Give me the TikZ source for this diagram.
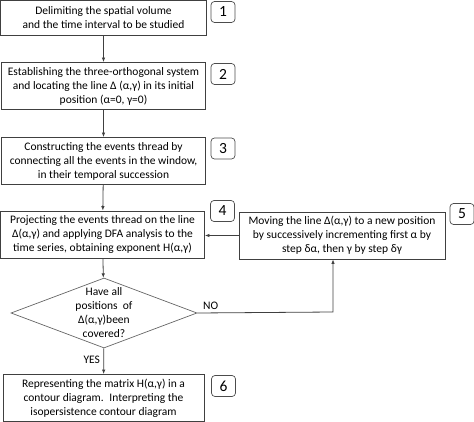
\documentclass[tikz,border=0pt]{standalone}
\usepackage{fontspec}
\setmainfont{Carlito}
\usetikzlibrary{shapes.geometric,arrows.meta}
\begin{document}
\begin{tikzpicture}[x=1pt,y=-1pt,
    box/.style={draw=black!75,line width=0.8pt,minimum width=204pt,minimum height=47pt,
      align=center,inner sep=1pt,font=\fontsize{11.5}{14}\selectfont},
    tag/.style={draw=black!70,line width=0.7pt,rounded corners=3.5pt,minimum width=24pt,
      minimum height=21pt,inner sep=0pt,font=\fontsize{15.5}{16}\selectfont},
    arr/.style={draw=black!75,line width=0.8pt,-{Latex[length=4.5pt,width=3.5pt]}}]
    \useasboundingbox (0,0) rectangle (474,422);

    % Steps
    \node[box,minimum height=35pt,minimum width=206pt] (b1) at (103.5,17.5)
        {Delimiting the spatial volume\\and the time interval to be studied};
    \node[box] (b2) at (103.5,86)
        {Establishing the three-orthogonal system\\and locating the line Δ (α,γ) in its initial\\position (α=0, γ=0)};
    \node[box] (b3) at (103.5,161)
        {Constructing the events thread by\\connecting all the events in the window,\\in their temporal succession};
    \node[box] (b4) at (102.5,234.5)
        {Projecting the events thread on the line\\Δ(α,γ) and applying DFA analysis to the\\time series, obtaining exponent H(α,γ)};
    \node[box,minimum width=206pt] (b5) at (342,235.5)
        {Moving the line Δ(α,γ) to a new position\\by successively incrementing first α by\\step δα, then γ by step δγ};
    \node[box,minimum width=201pt] (b6) at (103.5,398)
        {Representing the matrix H(α,γ) in a\\contour diagram.\enspace Interpreting the\\isopersistence contour diagram};

    % Decision
    \node[draw=black!60,line width=0.7pt,shape=diamond,minimum width=186pt,minimum height=70pt,
        inner sep=0pt] (q) at (104,313) {};
    \node[align=center,font=\fontsize{11.5}{14}\selectfont] (qtext) at (q)
        {Have all\\positions\ \ of\\Δ(α,γ)been\\covered?};

    % Step numbers
    \foreach \n/\x/\y in {1/223/12, 2/223/74, 3/223/148.5, 4/222.5/211, 5/462/214, 6/223.5/386} {
        \node[tag] (t\n) at (\x,\y) {\n};
    }

    % Connectors
    \draw[arr] (b1) -- (b2);
    \draw[arr] (b2) -- (b3);
    \draw[arr] (b3) -- (b4);
    \draw[arr] (b4) -- (q);
    \draw[arr] (q) -- node[left,pos=0.45,font=\fontsize{11.5}{14}\selectfont] {YES} (b6);
    \coordinate (turn) at (333,312);
    \draw[arr] (q.east) -- node[above right,pos=0,font=\fontsize{11.5}{14}\selectfont,xshift=2pt] {NO}
        (turn) -- (turn |- b5.south);
    \draw[arr] (b5.west) -- (b5.west -| b4.east);
\end{tikzpicture}
\end{document}
